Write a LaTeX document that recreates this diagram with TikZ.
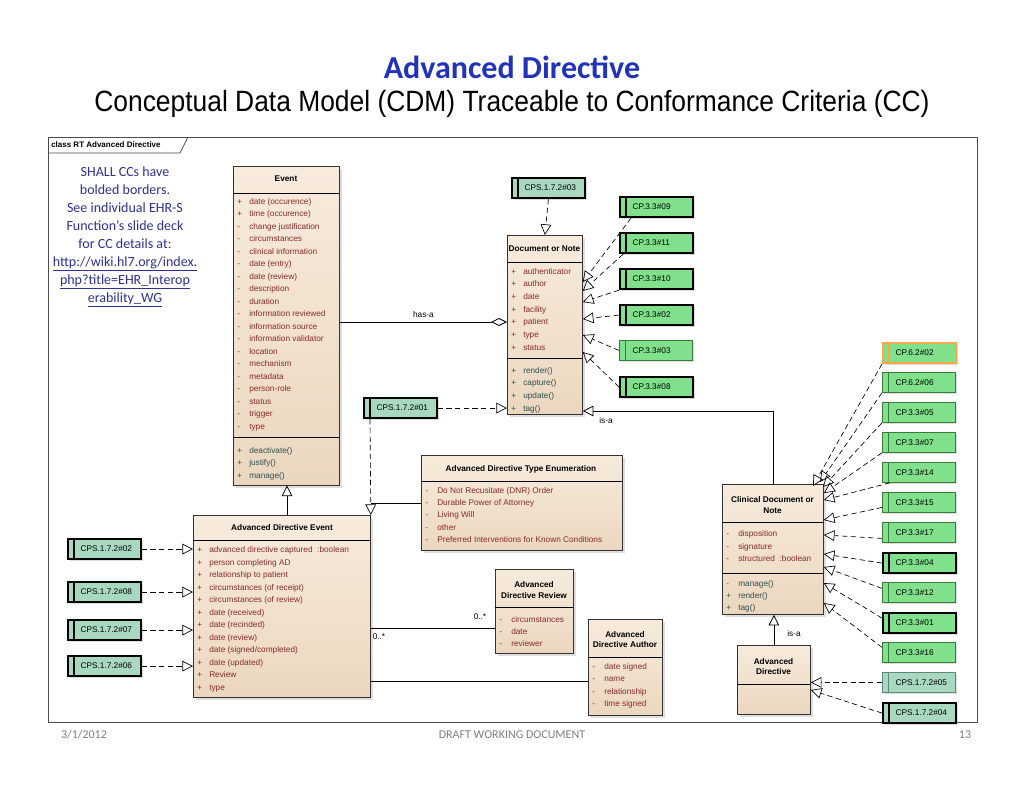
\documentclass[tikz,border=0pt]{standalone}
\usepackage{fontspec}
\setmainfont{Liberation Sans}
\newfontfamily\calib{Carlito}
\usetikzlibrary{arrows.meta,shadows}
\definecolor{attrc}{HTML}{8B2A2A}
\definecolor{opc}{HTML}{2F4F4F}
\definecolor{ccg}{HTML}{80E08C}
\definecolor{ccd}{HTML}{3A7A3A}
\definecolor{cct}{HTML}{A8D8C0}
\definecolor{cctd}{HTML}{5A8A7A}
\definecolor{ttl}{HTML}{2233BB}
\definecolor{note}{HTML}{2E3192}
\newcommand\cls{\fontsize{6.2}{7}\selectfont}
\newcommand\clsb{\fontsize{6.2}{7}\selectfont\bfseries}
\newcommand\rows[6]{\foreach \t [count=\i from 0] in {#6}{%
  \node[anchor=base west,inner sep=0,font=\cls,text=#5] at (#1,{#2+3+\i*#3}) {#4};
  \node[anchor=base west,inner sep=0,font=\cls,text=#5] at (#1+12,{#2+3+\i*#3}) {\t};}}
\newcommand\cc[5]{%
  \node[ccbox,#5,anchor=north west] (#1) at (#2,#3) {};
  \draw[#5] ([xshift=5pt]#1.north west) -- ([xshift=5pt]#1.south west);
  \node[anchor=west,inner sep=0,font=\cls] at ([xshift=10pt]#1.west) {#4};}
\tikzset{
  ccbox/.style={minimum width=54.5pt,minimum height=15pt,inner sep=0,drop shadow={shadow xshift=1.5pt,shadow yshift=-1.5pt,fill=gray!50}},
  cN/.style={fill=ccg,draw=ccd,line width=0.6pt},
  cB/.style={fill=ccg,draw=black,line width=1.6pt},
  cO/.style={fill=ccg,draw=orange!70,line width=1.5pt},
  tB/.style={fill=cct,draw=black,line width=1.6pt},
  tN/.style={fill=cct,draw=cctd,line width=0.6pt},
  cls/.style={draw=black!80,line width=0.6pt,inner sep=0,anchor=north west,top color=BgA,bottom color=BgB,drop shadow={shadow xshift=2pt,shadow yshift=-2pt,fill=gray!50}},
  gen/.style={-{Triangle[open,length=8pt,width=8pt]}},
  dsh/.style={dash pattern=on 4pt off 2.5pt,line width=0.5pt},
  assoc/.style={line width=0.6pt},
}
\definecolor{BgA}{HTML}{F7EBDD}
\definecolor{BgB}{HTML}{EBD7BF}
\begin{document}
\begin{tikzpicture}[x=0.75pt,y=-0.75pt]
\useasboundingbox (0,0) rectangle (1024,792);
\fill[white] (0,0) rectangle (1024,792);
% titles
\node[font=\calib\fontsize{24}{28}\selectfont\bfseries,text=ttl] (t1) at (512,67) {Advanced Directive};
\node[font=\fontsize{22}{26}\selectfont,xscale=0.9] (t2) at (512,104) {Conceptual Data Model (CDM) Traceable to Conformance Criteria (CC)};
% frame
\draw[black!70,line width=0.6pt] (48,137) rectangle (977,722);
\draw[black!70,line width=0.6pt] (48,153) -- (180,153) -- (188,137);
\node[anchor=west,inner sep=0,font=\fontsize{6}{6}\selectfont\bfseries] (ft) at (51,145) {class RT Advanced Directive};
% note
\node[font=\calib\fontsize{10.5}{13.5}\selectfont,text=note,align=center,anchor=north] (nt) at (125,162)
 {SHALL CCs have\\bolded borders.\\See individual EHR-S\\Function’s slide deck\\for CC details at:\\\underline{http://wiki.hl7.org/index.}\\\underline{php?title=EHR\_Interop}\\\underline{erability\_WG}};
% footer
\node[font=\calib\fontsize{9}{10}\selectfont,text=gray] (f1) at (84,735) {3/1/2012};
\node[font=\calib\fontsize{9}{10}\selectfont,text=gray] (f2) at (512,735) {DRAFT WORKING DOCUMENT};
\node[font=\calib\fontsize{9}{10}\selectfont,text=gray] (f3) at (965,735) {13};

% Event
\node[cls,minimum width=79.5pt,minimum height=239pt] (ev) at (233,166) {};
\node[font=\clsb] at (286,179) {Event};
\draw[line width=0.6pt] (233,193) -- (339,193) (233,437) -- (339,437);
\rows{237}{201}{12.5}{+}{attrc}{date (occurence),time (occurence)}
\rows{237}{226}{12.5}{-}{attrc}{change justification,circumstances,clinical information,date (entry),date (review),description,duration,information reviewed,information source,information validator,location,mechanism,metadata,person-role,status,trigger,type}
\rows{237}{450}{12.5}{+}{opc}{deactivate(),justify(),manage()}

% AD Event
\node[cls,minimum width=132.75pt,minimum height=136.5pt] (ade) at (193,515) {};
\node[font=\clsb] at (282,528) {Advanced Directive Event};
\draw[line width=0.6pt] (193,540) -- (370,540);
\rows{197}{549.5}{12.5}{+}{attrc}{advanced directive captured\ \ :boolean,person completing AD,relationship to patient,circumstances (of receipt),circumstances (of review),date (received),date (recinded),date (review),{date (signed/completed)},date (updated),Review,type}

% Document or Note
\node[cls,minimum width=56.25pt,minimum height=134.25pt] (doc) at (507,235) {};
\node[font=\clsb] at (544.5,249) {Document or Note};
\draw[line width=0.6pt] (507,262) -- (582,262) (507,358) -- (582,358);
\rows{511}{271}{12.7}{+}{attrc}{authenticator,author,date,facility,patient,type,status}
\rows{511}{370}{12.7}{+}{opc}{render(),capture(),update(),tag()}

% Enumeration
\node[cls,minimum width=150.75pt,minimum height=71.25pt] (en) at (421,455) {};
\node[font=\clsb] at (521,469) {Advanced Directive Type Enumeration};
\draw[line width=0.6pt] (421,481) -- (622,481);
\rows{425}{490}{12.4}{-}{attrc}{Do Not Recusitate (DNR) Order,Durable Power of Attorney,Living Will,other,Preferred Interventions for Known Conditions}

% Review
\node[cls,minimum width=58.5pt,minimum height=63pt] (rev) at (495,569) {};
\node[font=\clsb,align=center] at (534,590) {Advanced\\[1pt]Directive Review};
\draw[line width=0.6pt] (495,607) -- (573,607);
\rows{499}{619}{12.2}{-}{attrc}{circumstances,date,reviewer}

% Author
\node[cls,minimum width=55.5pt,minimum height=72pt] (aut) at (588,619) {};
\node[font=\clsb,align=center] at (625,639.5) {Advanced\\[1pt]Directive Author};
\draw[line width=0.6pt] (588,657) -- (662,657);
\rows{592}{666}{12.6}{-}{attrc}{date signed,name,relationship,time signed}

% Clinical Document or Note
\node[cls,minimum width=75.75pt,minimum height=97.5pt] (cdn) at (722,484) {};
\node[font=\clsb,align=center] at (772.5,505) {Clinical Document or\\[1pt]Note};
\draw[line width=0.6pt] (722,522) -- (823,522) (722,573) -- (823,573);
\rows{726}{533.5}{12.7}{-}{attrc}{disposition,signature,structured\ \ :boolean}
\rows{726}{583}{12.4}{-}{opc}{manage()}
\rows{726}{595.5}{12.4}{+}{opc}{render(),tag()}

% Advanced Directive
\node[cls,minimum width=54.75pt,minimum height=51.75pt] (ad) at (737,645) {};
\node[font=\clsb,align=center] at (773.5,666.5) {Advanced\\[1pt]Directive};
\draw[line width=0.6pt] (737,684) -- (810,684);

% CC boxes
\cc{c03a}{511}{177}{CPS.1.7.2\#03}{tB}
\cc{c09}{619}{196}{CP.3.3\#09}{cB}
\cc{c11}{619}{232}{CP.3.3\#11}{cB}
\cc{c10}{619}{268}{CP.3.3\#10}{cB}
\cc{c02}{619}{304}{CP.3.3\#02}{cB}
\cc{c03}{619}{340}{CP.3.3\#03}{cN}
\cc{c08}{619}{376}{CP.3.3\#08}{cB}
\cc{c01a}{363}{397}{CPS.1.7.2\#01}{tB}
\cc{l02}{67}{538}{CPS.1.7.2\#02}{tB}
\cc{l08}{67}{581}{CPS.1.7.2\#08}{tB}
\cc{l07}{67}{619}{CPS.1.7.2\#07}{tB}
\cc{l06}{67}{655}{CPS.1.7.2\#06}{tB}
\cc{r602}{882}{342}{CP.6.2\#02}{cO}
\cc{r606}{882}{372}{CP.6.2\#06}{cN}
\cc{r05}{882}{402}{CP.3.3\#05}{cN}
\cc{r07}{882}{432}{CP.3.3\#07}{cN}
\cc{r14}{882}{462}{CP.3.3\#14}{cN}
\cc{r15}{882}{492}{CP.3.3\#15}{cN}
\cc{r17}{882}{522}{CP.3.3\#17}{cN}
\cc{r04}{882}{552}{CP.3.3\#04}{cB}
\cc{r12}{882}{582}{CP.3.3\#12}{cN}
\cc{r01}{882}{612}{CP.3.3\#01}{cB}
\cc{r16}{882}{642}{CP.3.3\#16}{cN}
\cc{s05}{882}{672}{CPS.1.7.2\#05}{tN}
\cc{s04}{882}{702}{CPS.1.7.2\#04}{tB}

% connectors
\draw[dsh,gen] (c03a.south) -- (doc.north);
\draw[dsh,gen] (c09.south west) ++(12,0) -- (doc.east |- 0,282);
\draw[dsh,gen] (c11.south west) ++(4,0) -- (doc.east |- 0,291);
\draw[dsh,gen] (c10.south west) -- (doc.east |- 0,302);
\draw[dsh,gen] (c02.west) -- (doc.east |- 0,319);
\draw[dsh,gen] (c03.west) -- (doc.east |- 0,335);
\draw[dsh,gen] (c08.west) -- (doc.east |- 0,352);
\draw[dsh,gen] (c01a.east) -- (doc.west |- c01a.east);
\draw[dsh,gen] (c01a.south west) ++(7,0) -- (ade.north east);
\draw[assoc,-{Diamond[open,length=12pt,width=6pt]}] (ev.east |- 0,322) -- node[above,font=\cls,pos=0.5] {has-a} (doc.west |- 0,322);
\draw[assoc,gen] (cdn.north) -- (cdn.north |- 0,411) -- (doc.east |- 0,411);
\node[font=\cls] (isa1) at (606,421) {is-a};
\draw[assoc,gen] (ade.north -| 287,0) -- (ev.south -| 287,0);
\draw[assoc] (ade.east |- en.west) -- (en.west);
\draw[assoc] (ade.east |- 0,628) -- (rev.west |- 0,628);
\node[font=\cls] (m1) at (480,617) {0..*};
\node[font=\cls] (m2) at (379,637) {0..*};
\draw[assoc] (ade.east |- 0,681) -- (aut.west |- 0,681);
\draw[dsh,gen] (l02.east) -- (ade.west |- l02.east);
\draw[dsh,gen] (l08.east) -- (ade.west |- l08.east);
\draw[dsh,gen] (l07.east) -- (ade.west |- l07.east);
\draw[dsh,gen] (l06.east) -- (ade.west |- l06.east);
\draw[assoc,gen] (ad.north) -- (cdn.south -| ad.north);
\node[font=\cls] (isa2) at (794,634) {is-a};
\draw[dsh,gen] (r602.south west) -- (813,486);
\draw[dsh,gen] (r606.south west) -- (820,482);
\draw[dsh,gen] (r05.south west) -- (823,487);
\draw[dsh,gen] (r07.south west) -- (824,493);
\draw[dsh,gen] (r14.south west) ++(8,0) -- (cdn.east |- 0,500);
\draw[dsh,gen] (r15.west) ++(0,5) -- (cdn.east |- 0,520);
\draw[dsh,gen] (r17.west) ++(0,6) -- (cdn.east |- 0,535);
\draw[dsh,gen] (r04.west) -- (cdn.east |- 0,554);
\draw[dsh,gen] (r12.west) ++(0,-4) -- (cdn.east |- 0,567);
\draw[dsh,gen] (r01.west) ++(0,-5) -- (cdn.east |- 0,583);
\draw[dsh,gen] (r16.west) ++(0,-5) -- (cdn.east |- 0,603);
\draw[dsh,gen] (s05.west) -- (ad.east |- s05.west);
\draw[dsh,gen] (s04.west) -- (ad.east |- 0,690);
\end{tikzpicture}
\end{document}
